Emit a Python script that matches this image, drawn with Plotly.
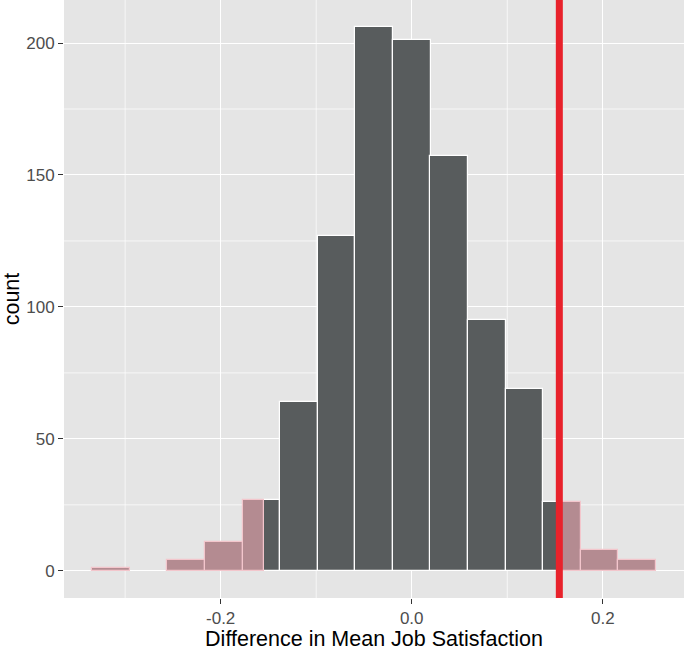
import plotly.graph_objects as go

# Data
bin_centers = [-0.3148, -0.2754, -0.2361, -0.1967, -0.1574, -0.1180, -0.0787,
               -0.0393, 0.0000, 0.0393, 0.0787, 0.1180, 0.1574, 0.1967, 0.2361]
counts = [1, 0, 4, 11, 27, 64, 127, 206, 201, 157, 95, 69, 26, 8, 4]
bin_width = 0.03935
obs_stat = 0.1545

x_ticks = [-0.2, 0.0, 0.2]
x_tick_labels = ["-0.2", "0.0", "0.2"]
y_ticks = [0, 50, 100, 150, 200]
y_tick_labels = ["0", "50", "100", "150", "200"]

GRAY = "#585c5d"
PINK = "#b48b91"
PINK_EDGE = "#f3c6cc"
RED = "#e8222b"

gx, gw, gy = [], [], []
px, pw, py = [], [], []
for c, n in zip(bin_centers, counts):
    lo, hi = c - bin_width / 2, c + bin_width / 2
    a, b = max(lo, -obs_stat), min(hi, obs_stat)
    if b > a and n > 0:
        gx.append((a + b) / 2); gw.append(b - a); gy.append(n)
    for a2, b2 in [(lo, min(hi, -obs_stat)), (max(lo, obs_stat), hi)]:
        if b2 > a2 and n > 0:
            px.append((a2 + b2) / 2); pw.append(b2 - a2); py.append(n)

fig = go.Figure()
fig.add_trace(go.Bar(x=gx, y=gy, width=gw, marker=dict(color=GRAY, line=dict(color="white", width=1.2)),
                     showlegend=False, hoverinfo="skip"))
fig.add_trace(go.Bar(x=px, y=py, width=pw, marker=dict(color=PINK, line=dict(color=PINK_EDGE, width=1.2)),
                     showlegend=False, hoverinfo="skip"))
fig.add_trace(go.Scatter(x=[obs_stat, obs_stat], y=[-10.3, 216.3], mode="lines",
                         line=dict(color=RED, width=7), showlegend=False, hoverinfo="skip"))

x_minor = [-0.3, -0.1, 0.1]
y_minor = [25, 75, 125, 175]
for v in x_minor:
    fig.add_shape(type="line", xref="x", yref="paper", x0=v, x1=v, y0=0, y1=1,
                  line=dict(color="white", width=0.7), layer="below")
for v in y_minor:
    fig.add_shape(type="line", xref="paper", yref="y", x0=0, x1=1, y0=v, y1=v,
                  line=dict(color="white", width=0.7), layer="below")

fig.update_layout(
    width=685, height=651,
    margin=dict(l=64, r=1, t=0, b=53, autoexpand=False),
    paper_bgcolor="white", plot_bgcolor="#e5e5e5",
    bargap=0, barmode="overlay",
    font=dict(family="Liberation Sans, Arial, sans-serif"),
    xaxis=dict(range=[-0.364, 0.285], tickvals=x_ticks, ticktext=x_tick_labels,
               showgrid=True, gridcolor="white", gridwidth=1.4, zeroline=False,
               ticks="outside", ticklen=5, tickcolor="#333333", tickwidth=1.2,
               tickfont=dict(size=17, color="#4d4d4d"),
               title=dict(text="Difference in Mean Job Satisfaction", font=dict(size=21.5, color="black"), standoff=7)),
    yaxis=dict(range=[-10.3, 216.3], tickvals=y_ticks, ticktext=y_tick_labels,
               showgrid=True, gridcolor="white", gridwidth=1.4, zeroline=False,
               ticks="outside", ticklen=5, tickcolor="#333333", tickwidth=1.2,
               tickfont=dict(size=17, color="#4d4d4d"),
               title=dict(text="count", font=dict(size=21.5, color="black"), standoff=4)),
)

fig.write_html("out.html", config={"displayModeBar": False},
               post_script="document.body.style.margin='0';")
